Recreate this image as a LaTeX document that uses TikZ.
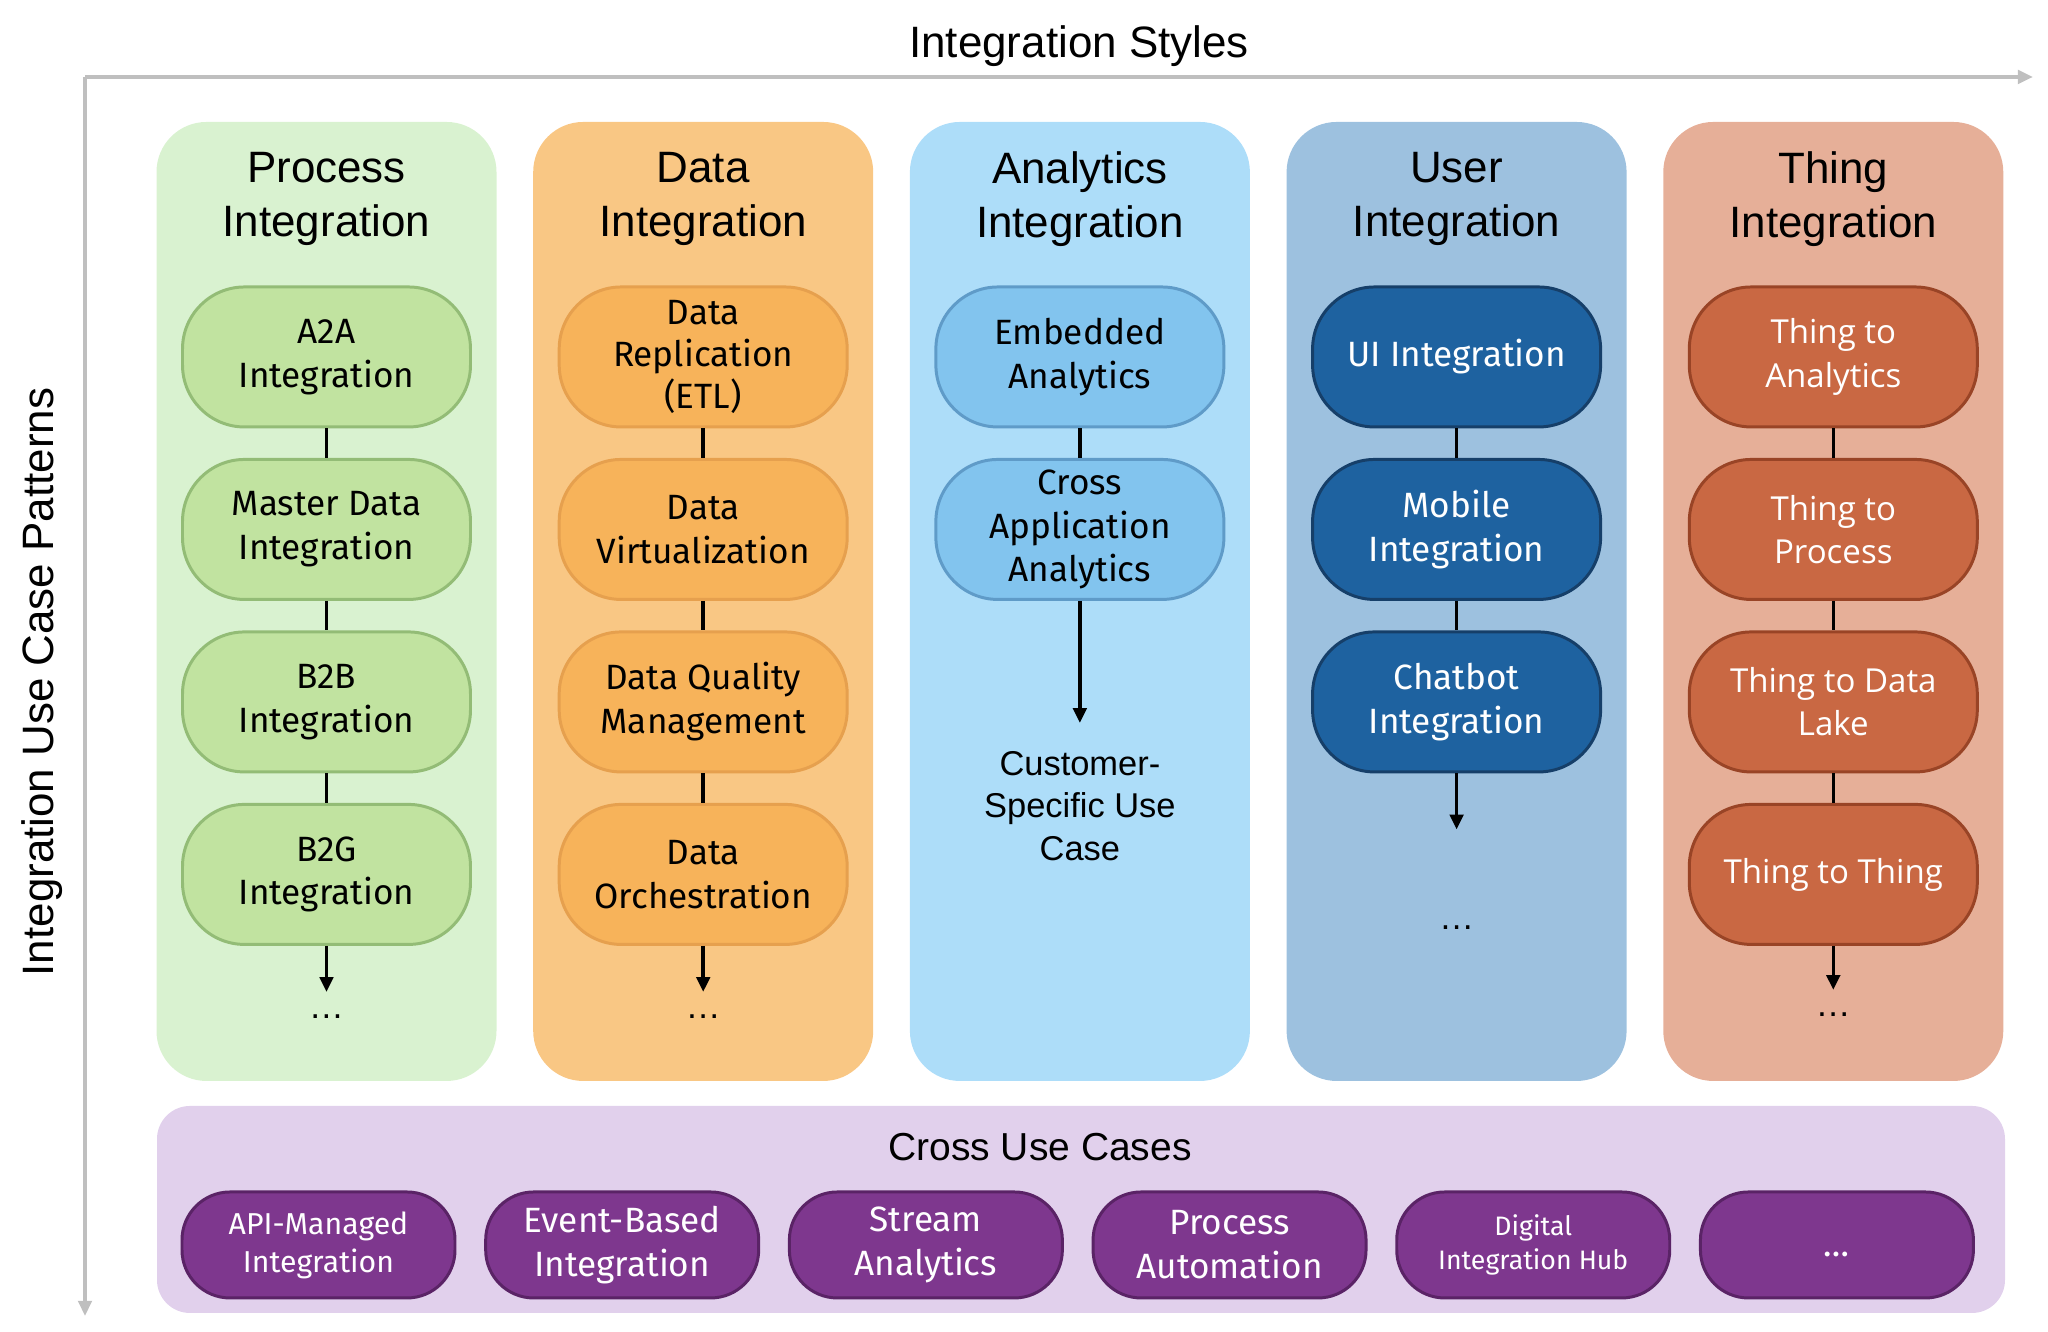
\documentclass[tikz,border=0pt]{standalone}
\usepackage{fontspec}
\setmainfont{Liberation Sans}
\newfontfamily\pillfamily{Fira Sans}
\newfontfamily\thingfamily{Open Sans}
\usepackage{xcolor}
\usepackage{tikz}
\usetikzlibrary{arrows.meta,positioning}
\definecolor{procbg}{HTML}{D9F2D0}
\definecolor{procfg}{HTML}{C1E3A0}
\definecolor{procdk}{HTML}{93BC76}
\definecolor{databg}{HTML}{F9C784}
\definecolor{datafg}{HTML}{F7B35A}
\definecolor{datadk}{HTML}{E6A04E}
\definecolor{anabg}{HTML}{ADDDF9}
\definecolor{anafg}{HTML}{82C4EE}
\definecolor{anadk}{HTML}{5F9BC8}
\definecolor{userbg}{HTML}{9DC1DF}
\definecolor{userfg}{HTML}{1E62A0}
\definecolor{userdk}{HTML}{163F69}
\definecolor{thingbg}{HTML}{E6AF98}
\definecolor{thingfg}{HTML}{C96843}
\definecolor{thingdk}{HTML}{994426}
\definecolor{crossbg}{HTML}{E1D0EC}
\definecolor{crossfg}{HTML}{7E378E}
\definecolor{crossdk}{HTML}{5A2366}
\definecolor{axisgray}{HTML}{BFBFBF}

\begin{document}
\begin{tikzpicture}[x=1cm,y=1cm,>={Triangle[length=4.2pt,width=3.8pt]},
    col/.style={rounded corners=0.5cm, minimum width=3.4cm, minimum height=9.59cm, inner sep=0pt},
    head/.style={font=\fontsize{12.5}{15.2}\selectfont, align=center},
    pill/.style={draw, line width=0.85pt, rounded corners=0.62cm, minimum width=2.88cm,
                 minimum height=1.40cm, align=center, inner sep=1pt,
                 font=\pillfamily\fontsize{10}{12.5}\selectfont},
    thing/.style={pill, font=\thingfamily\fontsize{9.4}{12.3}\selectfont, text=white,
                  fill=thingfg, draw=thingdk},
    cross/.style={pill, minimum width=2.73cm, minimum height=1.06cm, rounded corners=0.48cm,
                  text=white, fill=crossfg, draw=crossdk},
    link/.style={line width=1pt},
    more/.style={font=\fontsize{10}{12}\selectfont, inner sep=0pt},
    axis/.style={axisgray, line width=1.2pt, -{Triangle[length=4.3pt,width=3.8pt]}}]
  \useasboundingbox (0,0) rectangle (20.48,13.32);
  % ---- axes ----
  \coordinate (origin) at (0.85,12.55);
  \coordinate (xend) at (20.33,12.55);
  \coordinate (yend) at (0.85,0.16);
  \draw[axis] (origin) -- (xend);
  \draw[axis] (origin) -- (yend);
  \node[head] (styles) at (10.79,12.86) {Integration Styles};
  \node[head, rotate=90] (patterns) at (0.42,6.50) {Integration Use Case Patterns};
  % ---- columns ----
  \node[col, fill=procbg]  (c1) at (3.265,7.305) {};
  \node[col, fill=databg]  (c2) at (7.032,7.305) {};
  \node[col, fill=anabg]   (c3) at (10.799,7.305) {};
  \node[col, fill=userbg]  (c4) at (14.566,7.305) {};
  \node[col, fill=thingbg] (c5) at (18.333,7.305) {};
  \node[head] (h1) at (3.265,11.33) {Process\\Integration};
  \node[head] (h2) at (7.032,11.33) {Data\\Integration};
  \node[head] (h3) at (10.799,11.33) {Analytics\\Integration};
  \node[head] (h4) at (14.566,11.33) {User\\Integration};
  \node[head] (h5) at (18.333,11.33) {Thing\\Integration};
  % ---- process integration ----
  \node[pill, fill=procfg, draw=procdk] (p1) at (3.265,9.75) {A2A\\Integration};
  \node[pill, fill=procfg, draw=procdk] (p2) [below=2.95mm of p1] {Master Data\\Integration};
  \node[pill, fill=procfg, draw=procdk] (p3) [below=2.95mm of p2] {B2B\\Integration};
  \node[pill, fill=procfg, draw=procdk] (p4) [below=2.95mm of p3] {B2G\\Integration};
  \coordinate[below=4.6mm of p4] (pt);
  \node[more] (pm) [below=2.2mm of pt] {…};
  \draw[link] (p1) -- (p2);
  \draw[link] (p2) -- (p3);
  \draw[link] (p3) -- (p4);
  \draw[link,->] (p4) -- (pt);
  % ---- data integration ----
  \node[pill, fill=datafg, draw=datadk, font=\pillfamily\fontsize{10}{12}\selectfont] (d1) at (7.032,9.75) {Data\\Replication\\(ETL)};
  \node[pill, fill=datafg, draw=datadk] (d2) [below=2.95mm of d1] {Data\\Virtualization};
  \node[pill, fill=datafg, draw=datadk] (d3) [below=2.95mm of d2] {Data Quality\\Management};
  \node[pill, fill=datafg, draw=datadk] (d4) [below=2.95mm of d3] {Data\\Orchestration};
  \coordinate[below=4.6mm of d4] (dt);
  \node[more] (dm) [below=2.2mm of dt] {…};
  \draw[link] (d1) -- (d2);
  \draw[link] (d2) -- (d3);
  \draw[link] (d3) -- (d4);
  \draw[link,->] (d4) -- (dt);
  % ---- analytics integration ----
  \node[pill, fill=anafg, draw=anadk] (a1) at (10.799,9.75) {Embedded\\Analytics};
  \node[pill, fill=anafg, draw=anadk] (a2) [below=2.95mm of a1] {Cross\\Application\\Analytics};
  \coordinate[below=12.2mm of a2] (at);
  \node[align=center, font=\fontsize{9.8}{12}\selectfont] (acase) at (10.799,5.26) {Customer-\\Specific Use\\Case};
  \draw[link] (a1) -- (a2);
  \draw[link,->] (a2) -- (at);
  % ---- user integration ----
  \node[pill, fill=userfg, draw=userdk, text=white] (u1) at (14.566,9.75) {UI Integration};
  \node[pill, fill=userfg, draw=userdk, text=white] (u2) [below=2.95mm of u1] {Mobile\\Integration};
  \node[pill, fill=userfg, draw=userdk, text=white] (u3) [below=2.95mm of u2] {Chatbot\\Integration};
  \coordinate[below=5.6mm of u3] (ut);
  \node[more] (um) at (14.566,4.04) {…};
  \draw[link] (u1) -- (u2);
  \draw[link] (u2) -- (u3);
  \draw[link,->] (u3) -- (ut);
  % ---- thing integration ----
  \node[thing] (t1) at (18.333,9.75) {Thing to\\Analytics};
  \node[thing] (t2) [below=2.95mm of t1] {Thing to\\Process};
  \node[thing] (t3) [below=2.95mm of t2] {Thing to Data\\Lake};
  \node[thing] (t4) [below=2.95mm of t3] {Thing to Thing};
  \coordinate[below=4.4mm of t4] (tt);
  \node[more] (tm) [below=2.2mm of tt] {…};
  \draw[link] (t1) -- (t2);
  \draw[link] (t2) -- (t3);
  \draw[link] (t3) -- (t4);
  \draw[link,->] (t4) -- (tt);
  % ---- cross use cases ----
  \node[rounded corners=0.33cm, fill=crossbg, minimum width=18.48cm, minimum height=2.07cm, inner sep=0pt] (cu) at (10.81,1.225) {};
  \node[font=\fontsize{11.1}{13}\selectfont] (cuh) at (10.40,1.85) {Cross Use Cases};
  \node[cross, font=\pillfamily\fontsize{8.6}{10.8}\selectfont] (x1) at (3.185,0.87) {API-Managed\\Integration};
  \node[cross] (x2) [right=2.77mm of x1] {Event-Based\\Integration};
  \node[cross] (x3) [right=2.77mm of x2] {Stream\\Analytics};
  \node[cross] (x4) [right=2.77mm of x3] {Process\\Automation};
  \node[cross, font=\pillfamily\fontsize{7.6}{9.7}\selectfont] (x5) [right=2.77mm of x4] {Digital\\Integration Hub};
  \node[cross, text height=1.2ex, text depth=0pt] (x6) [right=2.77mm of x5] {…};
\end{tikzpicture}
\end{document}
